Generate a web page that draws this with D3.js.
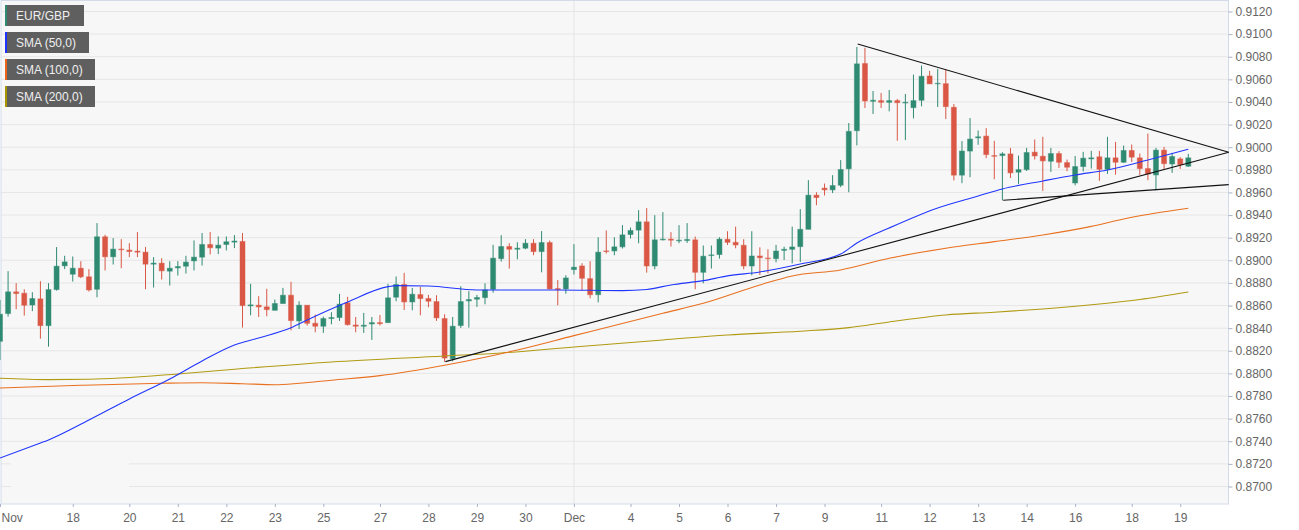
<!DOCTYPE html>
<html>
<head>
<meta charset="utf-8">
<style>html,body{margin:0;padding:0;background:#fff;overflow:hidden}svg{display:block}text{font-family:"Liberation Sans",Arial,sans-serif}</style>
<script src="https://cdnjs.cloudflare.com/ajax/libs/d3/7.8.5/d3.min.js"></script>
</head>
<body>
<svg id="chart" width="1299" height="530"></svg>
<script>
const opens=[.88284,.88529,.88721,.88709,.88605,.88659,.88422,.88741,.88951,.88877,.88930,.88854,.88744,.89208,.89031,.89099,.89090,.89081,.89072,.88966,.88975,.88904,.88933,.88948,.88995,.89028,.89140,.89108,.89140,.89161,.89167,.88597,.88603,.88588,.88558,.88618,.88691,.88464,.88603,.88443,.88417,.88485,.88494,.88624,.88428,.88417,.88437,.88449,.88449,.88674,.88786,.88632,.88697,.88662,.88635,.88485,.88130,.88423,.88641,.88656,.88670,.88744,.89015,.89122,.89098,.89107,.89151,.89077,.89157,.88750,.88747,.88918,.88950,.88838,.88696,.89083,.89083,.89119,.89228,.89267,.89340,.88950,.89181,.89187,.89172,.89175,.89181,.88894,.89042,.89051,.89186,.89159,.89133,.88950,.89038,.89020,.89015,.89088,.89097,.89121,.89274,.89576,.89638,.89623,.89664,.89809,.90146,.90740,.90406,.90412,.90397,.90412,.90391,.90350,.90415,.90630,.90560,.90562,.90353,.89753,.89966,.90083,.90098,.89926,.89926,.89941,.89779,.89802,.89956,.89920,.89876,.89944,.89864,.89684,.89829,.89897,.89915,.89805,.89906,.89867,.89971,.89906,.89811,.89755,.89974,.89852,.89897,.89832];
const highs=[.88650,.88904,.88798,.88744,.88718,.88815,.88798,.89117,.89040,.89034,.88992,.88922,.89329,.89226,.89196,.89187,.89152,.89250,.89117,.89028,.89019,.88992,.88992,.89040,.89176,.89241,.89250,.89211,.89211,.89223,.89241,.88792,.88683,.88748,.88653,.88756,.88810,.88638,.88603,.88520,.88502,.88541,.88703,.88677,.88499,.88535,.88499,.88517,.88792,.88857,.88889,.88756,.88765,.88694,.88691,.88523,.88499,.88771,.88727,.88694,.88797,.89137,.89222,.89151,.89160,.89187,.89187,.89258,.89175,.88826,.88868,.89143,.88974,.88992,.89204,.89264,.89204,.89311,.89290,.89444,.89462,.89399,.89426,.89249,.89311,.89329,.89210,.89131,.89131,.89204,.89257,.89298,.89186,.89257,.89115,.89097,.89136,.89121,.89298,.89452,.89709,.89602,.89679,.89753,.89886,.90214,.90887,.90879,.90497,.90480,.90506,.90427,.90471,.90642,.90722,.90675,.90692,.90687,.90382,.90054,.90258,.90148,.90169,.90056,.89956,.89994,.89926,.89994,.90068,.90092,.89994,.89965,.89891,.89923,.89959,.89968,.89968,.90092,.90047,.90015,.90024,.89944,.90121,.89994,.90003,.89950,.89912,.89941];
const lows=[.88118,.88502,.88567,.88511,.88550,.88307,.88236,.88732,.88922,.88812,.88842,.88724,.88673,.88910,.88963,.88930,.89028,.89028,.88744,.88759,.88830,.88777,.88865,.88883,.88910,.88954,.89052,.89055,.89087,.89108,.88405,.88514,.88499,.88505,.88558,.88618,.88381,.88393,.88423,.88364,.88358,.88434,.88464,.88423,.88364,.88358,.88296,.88423,.88446,.88638,.88561,.88558,.88514,.88585,.88464,.88101,.88107,.88402,.88405,.88588,.88611,.88714,.88989,.88927,.89009,.89098,.89045,.88894,.88744,.88602,.88705,.88874,.88732,.88664,.88629,.89060,.89045,.89104,.89193,.89151,.88891,.88921,.89175,.89122,.89151,.89154,.88744,.88797,.88927,.89015,.89136,.89106,.88920,.88867,.88870,.88885,.88982,.89003,.88973,.88985,.89274,.89487,.89573,.89594,.89647,.89602,.90016,.90347,.90294,.90347,.90317,.90057,.90063,.90255,.90362,.90560,.90356,.90249,.89706,.89682,.89735,.90021,.89903,.89717,.89530,.89728,.89675,.89790,.89891,.89613,.89782,.89817,.89788,.89663,.89785,.89811,.89702,.89764,.89758,.89861,.89870,.89755,.89708,.89619,.89808,.89773,.89808,.89826];
const closes=[.88523,.88721,.88706,.88603,.88662,.88422,.88741,.88948,.88986,.88930,.88854,.88738,.89208,.89031,.89099,.89093,.89078,.89072,.88966,.88975,.88907,.88930,.88945,.88984,.89028,.89140,.89111,.89134,.89164,.89170,.88600,.88606,.88588,.88564,.88618,.88691,.88467,.88603,.88443,.88417,.88485,.88494,.88612,.88431,.88417,.88426,.88449,.88440,.88668,.88786,.88632,.88700,.88662,.88638,.88491,.88136,.88417,.88635,.88653,.88671,.88738,.89019,.89122,.89098,.89107,.89151,.89077,.89157,.88747,.88741,.88844,.88939,.88841,.88696,.89072,.89077,.89119,.89225,.89264,.89340,.88950,.89181,.89187,.89178,.89178,.89184,.88894,.89036,.89048,.89187,.89159,.89136,.88950,.89038,.89023,.89015,.89082,.89097,.89118,.89274,.89576,.89555,.89623,.89661,.89803,.90140,.90737,.90409,.90415,.90397,.90412,.90394,.90397,.90412,.90627,.90560,.90565,.90359,.89753,.89966,.90072,.90092,.89935,.89920,.89941,.89773,.89802,.89953,.89923,.89879,.89944,.89867,.89823,.89829,.89903,.89906,.89805,.89906,.89867,.89971,.89912,.89811,.89764,.89974,.89855,.89918,.89846,.89906];

const sma50Index=[0,5,6,11,16,21,25,29,32,36,38,43,48,49,53,59,69,77,80,83,87,90,94,99,104,106,110,116,121,124,129,133,137,142,147];
const sma50Values=[.87252,.87385,.87412,.87588,.87774,.87951,.88110,.88251,.88313,.88404,.88473,.88632,.88767,.88776,.88773,.88738,.88738,.88732,.88742,.88782,.88820,.88862,.88897,.88968,.89056,.89153,.89286,.89463,.89569,.89631,.89702,.89755,.89799,.89887,.89982];
const sma100Index=[0,10,20,25,30,34,37,41,47,55,60,64,71,82,87,94,98,104,110,117,123,129,135,139,147];
const sma100Values=[.87871,.87895,.87913,.87918,.87909,.87900,.87913,.87940,.87980,.88072,.88143,.88207,.88334,.88532,.88620,.88782,.88862,.88915,.89018,.89106,.89165,.89224,.89300,.89366,.89460];
const sma200Index=[0,6,11,22,29,41,55,62,71,82,90,99,105,110,117,123,129,136,141,147];
const sma200Values=[.87957,.87945,.87948,.87995,.88037,.88101,.88154,.88181,.88234,.88296,.88340,.88373,.88405,.88455,.88517,.88541,.88570,.88614,.88654,.88720];

const trendA=[[106.1,.90913],[152,.89955]];
const trendB=[[55.1,.88104],[152,.89955]];
const trendC=[[124.1,.89531],[152,.89669]];

const yTicks=[.87,.872,.874,.876,.878,.88,.882,.884,.886,.888,.89,.892,.894,.896,.898,.9,.902,.904,.906,.908,.91,.912];
const xTickIndex=[0,9,16,22,28,34,40,47,53,59,65,71,78,84,90,96,102,109,115,121,127,133,140,146];
const xTickLabels=["Nov","18","20","21","22","23","25","27","28","29","30","Dec","4","5","6","7","9","11","12","13","14","16","18","19"];
const monthStartIndex=[71];

const legendLabels=["EUR/GBP","SMA (50,0)","SMA (100,0)","SMA (200,0)"];
const legendColors=["#2f8a72","#1f33ff","#e8641b","#a89400"];
const legendWidths=[79,84,90,90];

const UP="#2f8a72",DOWN="#d95744";
const svg=d3.select("#chart");
const W=1228.5,T=0.5,B=504;
const x=d3.scaleLinear().domain([0,147]).range([0,1188.3]);
const y=d3.scaleLinear().domain([.87,.912]).range([486.5,11.5]);

svg.append("rect").attr("x",1).attr("y",T).attr("width",W-1).attr("height",B-T).attr("fill","#f7f7f7");

svg.append("g").selectAll("line").data(yTicks).join("line")
  .attr("x1",1).attr("x2",W).attr("y1",d=>y(d)).attr("y2",d=>y(d))
  .attr("stroke","#e6e6e6").attr("stroke-width",1);
svg.append("rect").attr("x",11).attr("y",447).attr("width",118).attr("height",55).attr("fill","#f7f7f7");
svg.append("g").selectAll("line").data(monthStartIndex).join("line")
  .attr("x1",d=>x(d)).attr("x2",d=>x(d)).attr("y1",T).attr("y2",B)
  .attr("stroke","#e6e6e6").attr("stroke-width",1);

svg.append("rect").attr("x",1).attr("y",T).attr("width",W-1).attr("height",B-T)
  .attr("fill","none").attr("stroke","#d3dbea").attr("stroke-width",1);

const yAxis=d3.axisRight(y).tickValues(yTicks).tickFormat(d3.format(".4f")).tickSize(4).tickPadding(3);
const gy=svg.append("g").attr("transform",`translate(${W},0)`).call(yAxis);
gy.select(".domain").remove();
gy.selectAll("line").attr("stroke","#aab4c4");
gy.selectAll("text").attr("fill","#666").style("font-size","12px");

const xAxis=d3.axisBottom(x).tickValues(xTickIndex).tickFormat((d,i)=>xTickLabels[i]).tickSize(3).tickPadding(6);
const gx=svg.append("g").attr("transform",`translate(0,${B})`).call(xAxis);
gx.select(".domain").remove();
gx.selectAll("line").attr("stroke","#aab4c4");
gx.selectAll("text").attr("fill","#666").style("font-size","12px");
gx.selectAll(".tick").filter((d,i)=>i===0).select("text").attr("text-anchor","start").attr("x",1);

const candles=d3.range(opens.length).map(i=>({i,o:opens[i],h:highs[i],l:lows[i],c:closes[i]}));
const gc=svg.append("g").selectAll("g").data(candles).join("g");
const color=d=>d.c>=d.o?UP:DOWN;
gc.append("line").attr("x1",d=>x(d.i)).attr("x2",d=>x(d.i))
  .attr("y1",d=>y(d.h)).attr("y2",d=>y(d.l)).attr("stroke",color).attr("stroke-width",1);
gc.append("rect").attr("x",d=>x(d.i)-2.5).attr("width",5)
  .attr("y",d=>y(Math.max(d.o,d.c))).attr("height",d=>Math.abs(y(d.o)-y(d.c)))
  .attr("fill",color).attr("stroke",color).attr("stroke-opacity",.45).attr("stroke-width",1);

const smaLine=d3.line().x(d=>x(d[0])).y(d=>y(d[1])).curve(d3.curveMonotoneX);
[[sma200Index,sma200Values,"#b09a12"],[sma100Index,sma100Values,"#e9701f"],[sma50Index,sma50Values,"#2036ff"]].forEach(([ix,vals,col])=>{
  svg.append("path").datum(ix.map((d,i)=>[d,vals[i]])).attr("d",smaLine)
    .attr("fill","none").attr("stroke",col).attr("stroke-width",1.1);
});

const straight=d3.line().x(d=>x(d[0])).y(d=>y(d[1]));
[trendA,trendB,trendC].forEach(t=>{
  svg.append("path").datum(t).attr("d",straight).attr("fill","none").attr("stroke","#111").attr("stroke-width",1.1);
});

const leg=svg.append("g").selectAll("g").data(legendLabels).join("g")
  .attr("transform",(d,i)=>`translate(5,${5+i*27})`);
leg.append("rect").attr("width",(d,i)=>legendWidths[i]).attr("height",21).attr("fill","#5f5f5f");
leg.append("rect").attr("width",2).attr("height",21).attr("fill",(d,i)=>legendColors[i]);
leg.append("text").attr("x",11).attr("y",15).attr("fill","#efefef").style("font-size","12px").text(d=>d);
</script>
</body>
</html>
